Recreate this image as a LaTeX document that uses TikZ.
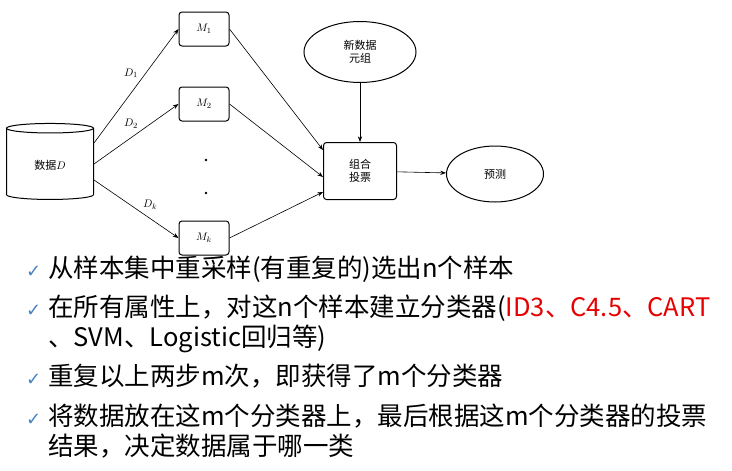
\documentclass[tikz,border=0pt]{standalone}
\usepackage{fontspec}
\setmainfont{Noto Sans CJK SC}
\newfontfamily\checkfont{DejaVu Sans}
\usetikzlibrary{shapes.geometric,arrows.meta}
\tikzset{>=Stealth}
\definecolor{checkblue}{RGB}{70,130,190}
\definecolor{hlred}{RGB}{230,0,0}

\begin{document}
\begin{tikzpicture}[x=1pt,y=-1pt,
  every node/.style={font=\fontsize{11}{13}\selectfont},
  model/.style={draw,rounded corners=3pt,minimum width=50pt,minimum height=34pt,line width=1pt},
  vote/.style={draw,rounded corners=3pt,minimum width=73pt,minimum height=57pt,line width=1pt},
  oval/.style={draw,ellipse,line width=1pt},
  flow/.style={->,line width=0.6pt},
  bullet/.style={anchor=base west,font=\fontsize{25.5}{30}\selectfont,inner sep=0pt},
  tick/.style={anchor=base west,font=\checkfont\fontsize{18}{20}\selectfont,text=checkblue,inner sep=0pt}]
  \useasboundingbox (0,0) rectangle (732,471);
      % cylinder for data
      \node[draw,cylinder,shape border rotate=90,aspect=0.25,minimum width=87pt,minimum height=76pt,line width=1pt] (data) at (50,165) {数据$D$};
      \node[model] (m1) at (204,29) {$M_1$};
      \node[model] (m2) at (204,104) {$M_2$};
      \node[model] (mk) at (204,238) {$M_k$};
      \fill (206,160) circle (1.3pt);
      \fill (206,193) circle (1.3pt);
      \node[vote,align=center] (vote) at (360,171) {组合\\投票};
      \node[oval,minimum width=112pt,minimum height=61pt,align=center] (new) at (360,52) {新数据\\元组};
      \node[oval,minimum width=97pt,minimum height=56pt] (pred) at (495,174) {预测};
      \coordinate (d1) at (94,143);
      \coordinate (d2) at (94,164);
      \coordinate (dk) at (94,180);
      \draw[flow] (d1) -- node[pos=0.55,above left=-1pt] {$D_1$} (m1.west);
      \draw[flow] (d2) -- node[pos=0.55,above left=-1pt] {$D_2$} (m2.west);
      \draw[flow] (dk) -- node[pos=0.55,above right=-1pt] {$D_k$} (mk.west);
      \draw[flow] (m1.east) -- ([yshift=-8pt]vote.north west);
      \draw[flow] (m2.east) -- ([yshift=-6pt]vote.west);
      \draw[flow] (mk.east) -- ([yshift=8pt]vote.south west);
      \draw[flow] (new) -- (vote);
      \draw[flow] (vote) -- (pred);
      % bullet text
      \foreach \y in {277,316,385,425} \node[tick] at (26,\y) {✓};
      \node[bullet] (t1) at (48,277) {从样本集中重采样(有重复的)选出n个样本};
      \node[bullet] (t2) at (48,316) {在所有属性上，对这n个样本建立分类器(\textcolor{hlred}{ID3、C4.5、CART}};
      \node[bullet] (t3) at (48,346) {、SVM、Logistic回归等)};
      \node[bullet] (t4) at (48,385) {重复以上两步m次，即获得了m个分类器};
      \node[bullet] (t5) at (48,425) {将数据放在这m个分类器上，最后根据这m个分类器的投票};
      \node[bullet] (t6) at (48,455) {结果，决定数据属于哪一类};
\end{tikzpicture}
\end{document}
